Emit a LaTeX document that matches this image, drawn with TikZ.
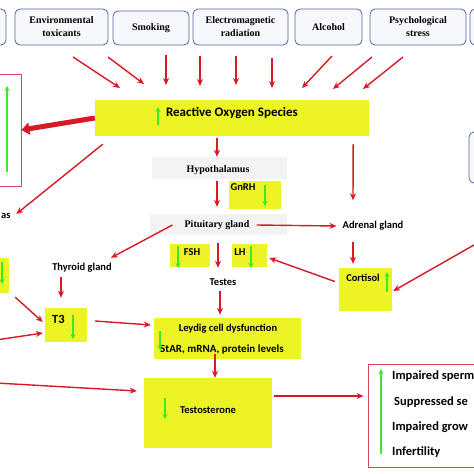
\documentclass[tikz,border=0pt]{standalone}
\usepackage{fontspec}
\setmainfont{Liberation Serif}
\newfontfamily\calib{Carlito}
\usetikzlibrary{arrows.meta,calc}

\definecolor{ylw}{RGB}{236,244,38}
\definecolor{arred}{RGB}{215,25,40}
\definecolor{grn}{RGB}{60,235,40}
\definecolor{boxblue}{RGB}{80,100,160}
\definecolor{boxfill}{RGB}{247,248,252}
\definecolor{boxred}{RGB}{215,70,90}
\definecolor{bggray}{RGB}{243,243,243}

\begin{document}
\begin{tikzpicture}[x=1pt,y=-1pt,
  topbox/.style={draw=boxblue,fill=boxfill,rounded corners=5pt,line width=0.8pt,minimum height=36pt,align=center,font=\bfseries\fontsize{10}{13}\selectfont},
  hl/.style={fill=ylw,draw=none,inner sep=0pt},
  graybg/.style={fill=bggray,draw=none,inner sep=0pt},
  redbox/.style={draw=boxred,line width=0.8pt,fill=white,inner sep=0pt},
  lbl/.style={font=\calib\bfseries\fontsize{10.5}{12}\selectfont,inner sep=1pt,text height=7pt,text depth=2pt},
  slbl/.style={font=\bfseries\fontsize{10}{12}\selectfont,inner sep=1pt,text height=7pt,text depth=2pt},
  biglbl/.style={font=\calib\bfseries\fontsize{12.5}{14}\selectfont,inner sep=1pt,anchor=west},
  rarr/.style={draw=arred,line width=1.4pt,-{Stealth[length=7pt,width=6pt]}},
  garr/.style={draw=grn,line width=1.6pt,-{Stealth[length=5pt,width=5pt]}}]
\useasboundingbox (0,0) rectangle (474,474);
\clip (0,0) rectangle (474,474);
\fill[white] (0,0) rectangle (474,474);

% causes
\node[topbox,minimum width=40pt] (tl) at (-14,27) {};
\node[topbox,minimum width=93pt] (env) at (61.5,27) {Environmental\\toxicants};
\node[topbox,minimum width=76pt,minimum height=34pt] (smk) at (151,28) {Smoking};
\node[topbox,minimum width=95pt] (emr) at (240.5,27) {Electromagnetic\\radiation};
\node[topbox,minimum width=67pt] (alc) at (328.5,27) {Alcohol};
\node[topbox,minimum width=96pt] (psy) at (418,27) {Psychological\\stress};
\node[topbox,minimum width=40pt] (tr) at (490,27) {};
\node[topbox,minimum width=40pt,minimum height=51pt] (rblue) at (489,157.5) {};

\foreach \sx/\sy/\ex/\ey [count=\i] in {73/57/120/88, 108/57/144/84, 166/55/166/85, 200/56/200/86, 236/56/236/85, 272/58/272/88, 332/56/302/88, 372/57/333/89, 403/57/363/89}{
  \coordinate (src\i) at (\sx,\sy);
  \coordinate (ros\i) at (\ex,\ey);
  \draw[rarr] (src\i) -- (ros\i);
}

% ROS
\node[hl,minimum width=274pt,minimum height=36pt] (ros) at (232,118) {};
\node[font=\calib\bfseries\fontsize{13}{15}\selectfont,inner sep=0pt] (rost) at (232,113) {Reactive Oxygen Species};
\node[redbox,minimum width=42pt,minimum height=112pt] (lbox) at (0,130) {};
\node[hl,minimum width=39pt,minimum height=35pt] (lyel) at (-10.5,275.5) {};

% axis
\node[graybg,minimum width=135pt,minimum height=22pt] (hypbg) at (219.5,168) {};
\node[slbl] (hyp) at (218,170) {Hypothalamus};
\node[graybg,minimum width=137pt,minimum height=21pt] (pitbg) at (218.5,224.5) {};
\node[slbl] (pit) at (217,225) {Pituitary gland};
\node[hl,minimum width=52pt,minimum height=28pt] (gnrh) at (255,195) {};
\node[lbl] (gnrht) at (243,188) {GnRH};
\node[hl,minimum width=40pt,minimum height=23pt] (fsh) at (190,255.5) {};
\node[lbl] (fsht) at (192,253) {FSH};
\node[hl,minimum width=35pt,minimum height=23pt] (lh) at (249.5,255.5) {};
\node[lbl] (lht) at (240,253) {LH};
\node[lbl] (adr) at (373,226) {Adrenal gland};
\node[lbl] (tst) at (223,283) {Testes};
\node[lbl] (thy) at (82,268) {Thyroid gland};
\node[lbl,anchor=west,inner sep=0.5pt] (pan) at (0.5,216) {as};
\node[hl,minimum width=53pt,minimum height=43pt] (cort) at (365.5,289.5) {};
\node[lbl] (cortt) at (363,279) {Cortisol};
\node[hl,minimum width=42pt,minimum height=34pt] (t3) at (66,325) {};
\node[lbl,font=\calib\bfseries\fontsize{12.5}{14}\selectfont] (t3t) at (58.5,321) {T3};
\node[hl,minimum width=147pt,minimum height=41pt] (ley) at (227.5,338.5) {};
\node[lbl] (leyt) at (228,329) {Leydig cell dysfunction};
\node[lbl,font=\calib\bfseries\fontsize{11}{12}\selectfont] (start) at (222,350) {StAR, mRNA, protein levels};
\node[hl,minimum width=128pt,minimum height=70pt] (tos) at (208,413) {};
\node[lbl] (tost) at (208,411) {Testosterone};

% outcomes
\node[redbox,minimum width=152pt,minimum height=103pt] (rbox) at (444,415.5) {};
\node[biglbl] (o1) at (391,376) {Impaired sperm};
\node[biglbl] (o2) at (393,402) {Suppressed se};
\node[biglbl] (o3) at (391,427) {Impaired grow};
\node[biglbl] (o4) at (391,452) {Infertility};

\coordinate (offr) at (480,241.6);
\coordinate (offl1) at (-4,340);
\coordinate (offl2) at (-4,383);

\draw[draw=arred,line width=5pt,-{Triangle[length=8pt,width=12pt]}] (ros.west) -- (lbox.east);
\draw[rarr] ([xshift=8pt,yshift=-8pt]ros.south west) -- ([xshift=5pt,yshift=2pt]pan.east);
\draw[rarr] ([xshift=-15pt,yshift=-2pt]ros.south) -- ([xshift=-2.5pt]hypbg.north);
\draw[rarr] ([xshift=-2.5pt,yshift=-2pt]hypbg.south) -- ([xshift=-1.5pt,yshift=7pt]pitbg.north);
\draw[rarr] ([xshift=6pt]pit.east) -- ([xshift=-5pt]adr.west);
\draw[rarr] ([xshift=-16pt,yshift=-8pt]ros.south east) -- ([xshift=-20pt,yshift=20pt]adr.north);
\draw[rarr] ([xshift=-20pt,yshift=-10pt]adr.south) -- ([xshift=-12.5pt,yshift=4pt]cort.north);
\draw[rarr] ([xshift=-4pt,yshift=8pt]cort.west) -- ([xshift=2pt,yshift=-2.5pt]lh.east);
\draw[rarr] (offr) -- ([xshift=1pt,yshift=-1.5pt]cort.east);
\draw[rarr] ([xshift=-0.5pt,yshift=-8pt]pitbg.south) -- ([xshift=-5pt,yshift=9.5pt]tst.north);
\draw[rarr] ([xshift=-3pt,yshift=-2.5pt]tst.south) -- ([xshift=-7.5pt,yshift=3pt]ley.north);
\draw[rarr] ([xshift=-12.5pt,yshift=5pt]ley.south) -- ([xshift=7pt]tos.north);
\draw[rarr] ([xshift=2pt,yshift=17pt]tos.east) -- ([xshift=-4pt,yshift=19.5pt]rbox.west);
\draw[rarr] ([xshift=-11pt]pit.west) -- ([xshift=-2pt,yshift=4.5pt]thy.north east);
\draw[rarr] ([xshift=-21pt,yshift=-3.5pt]thy.south) -- ([xshift=-5pt,yshift=10pt]t3.north);
\draw[rarr] ([xshift=6pt,yshift=-4pt]lyel.south east) -- ([xshift=-2pt,yshift=3pt]t3.west);
\draw[rarr] (offl1) -- ([xshift=-2pt,yshift=-8pt]t3.west);
\draw[rarr] ([xshift=8pt,yshift=4pt]t3.east) -- ([xshift=-3pt,yshift=13.5pt]ley.west);
\draw[rarr] (offl2) -- ([xshift=-7pt,yshift=22pt]tos.west);

% up / down
\foreach \x/\a/\b in {158/125/107, 7/172/86, 265/185/206, 178/246/268, 251/246/268, 387/292/272, 73/315/339, 160/331/350, 165/398/419, 381/454/369, 2/262/284}
  \draw[garr] (\x,\a) -- (\x,\b);
\end{tikzpicture}
\end{document}
